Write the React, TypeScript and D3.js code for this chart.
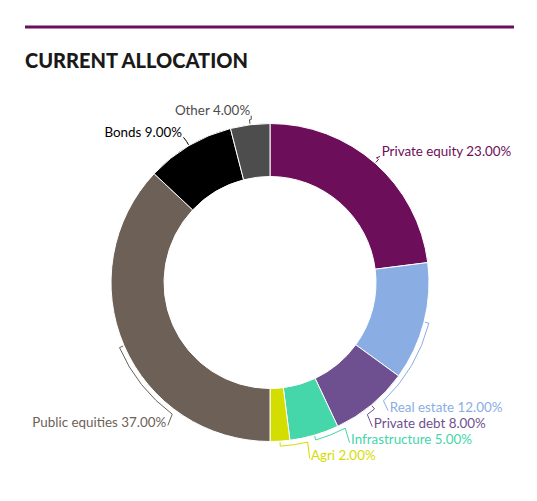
import React, { useEffect, useRef } from 'react';
import * as d3 from 'd3';

const categories = [
  'Private equity',
  'Real estate',
  'Private debt',
  'Infrastructure',
  'Agri',
  'Public equities',
  'Bonds',
  'Other',
];
const allocation = [23, 12, 8, 5, 2, 37, 9, 4];
const sliceColors = ['#6d0e5a', '#8aaee3', '#6e5090', '#45d6aa', '#d4dd00', '#6d6157', '#000000', '#4d4d4d'];
// where each label sits around the ring: [angle in degrees clockwise from top, radius]
const labelSpots: [number, number][] = [
  [40.5, 172], [136.2, 173], [143.6, 175], [152.7, 176.7],
  [166.7, 177.8], [216.6, 174], [329.6, 174], [353.4, 173],
];

const W = 537;
const H = 501;

const AllocationDonut = () => {
  const svgRef = useRef<SVGSVGElement | null>(null);

  useEffect(() => {
    const svg = d3.select(svgRef.current);
    svg.selectAll('*').remove();

    // header rule + title
    svg.append('rect')
      .attr('x', 25).attr('y', 25.5)
      .attr('width', 489).attr('height', 3)
      .attr('fill', '#6d0e5a');

    svg.append('text')
      .attr('x', 25).attr('y', 67.5)
      .attr('font-family', 'Lato, sans-serif')
      .attr('font-weight', 900)
      .attr('font-size', 20)
      .attr('letter-spacing', 0)
      .attr('fill', '#1a1a1a')
      .text('CURRENT ALLOCATION');

    const cx = 270;
    const cy = 282.5;
    const outerR = 159;
    const innerR = 106;
    const bracketR = outerR + 5;

    const data = categories.map((name, i) => ({ name, value: allocation[i], color: sliceColors[i], spot: labelSpots[i] }));
    type Row = typeof data[number];

    const pie = d3.pie<Row>().value(d => d.value).sort(null);
    const arc = d3.arc<d3.PieArcDatum<Row>>().innerRadius(innerR).outerRadius(outerR);

    const g = svg.append('g').attr('transform', `translate(${cx},${cy})`);
    const arcs = pie(data);

    g.selectAll('path.slice')
      .data(arcs)
      .join('path')
      .attr('class', 'slice')
      .attr('d', arc)
      .attr('fill', d => d.data.color)
      .attr('stroke', '#fff')
      .attr('stroke-width', 1);

    const polar = (a: number, r: number): [number, number] => [r * Math.sin(a), -r * Math.cos(a)];

    arcs.forEach(d => {
      const mid = (d.startAngle + d.endAngle) / 2;
      const labA = (d.data.spot[0] * Math.PI) / 180;
      const labR = d.data.spot[1];
      const right = labA < Math.PI;

      // connector: short tick out of the slice, run along the ring, then to the label
      const p = d3.path();
      const t0 = polar(mid, outerR + 1);
      p.moveTo(t0[0], t0[1]);
      const t1 = polar(mid, bracketR);
      p.lineTo(t1[0], t1[1]);
      if (Math.abs(labA - mid) > 0.01) {
        p.arc(0, 0, bracketR, mid - Math.PI / 2, labA - Math.PI / 2, labA < mid);
      }
      const end = polar(labA, labR - 1);
      p.lineTo(end[0] + (right ? -1 : 1), end[1] + 4);

      g.append('path')
        .attr('d', p.toString())
        .attr('fill', 'none')
        .attr('stroke', d.data.color)
        .attr('stroke-width', 1);

      const [lx, ly] = polar(labA, labR);
      g.append('text')
        .attr('x', lx)
        .attr('y', ly + 4.5)
        .attr('text-anchor', right ? 'start' : 'end')
        .attr('font-family', 'Lato, sans-serif')
        .attr('font-size', 13.4)
        .attr('fill', d.data.color)
        .text(`${d.data.name} ${d.data.value.toFixed(2)}%`);
    });
  }, []);

  return (
    <svg ref={svgRef} width={W} height={H} style={{ position: 'absolute', left: 0, top: 0, background: '#fff' }} />
  );
};

export default function App() {
  return <AllocationDonut />;
}
